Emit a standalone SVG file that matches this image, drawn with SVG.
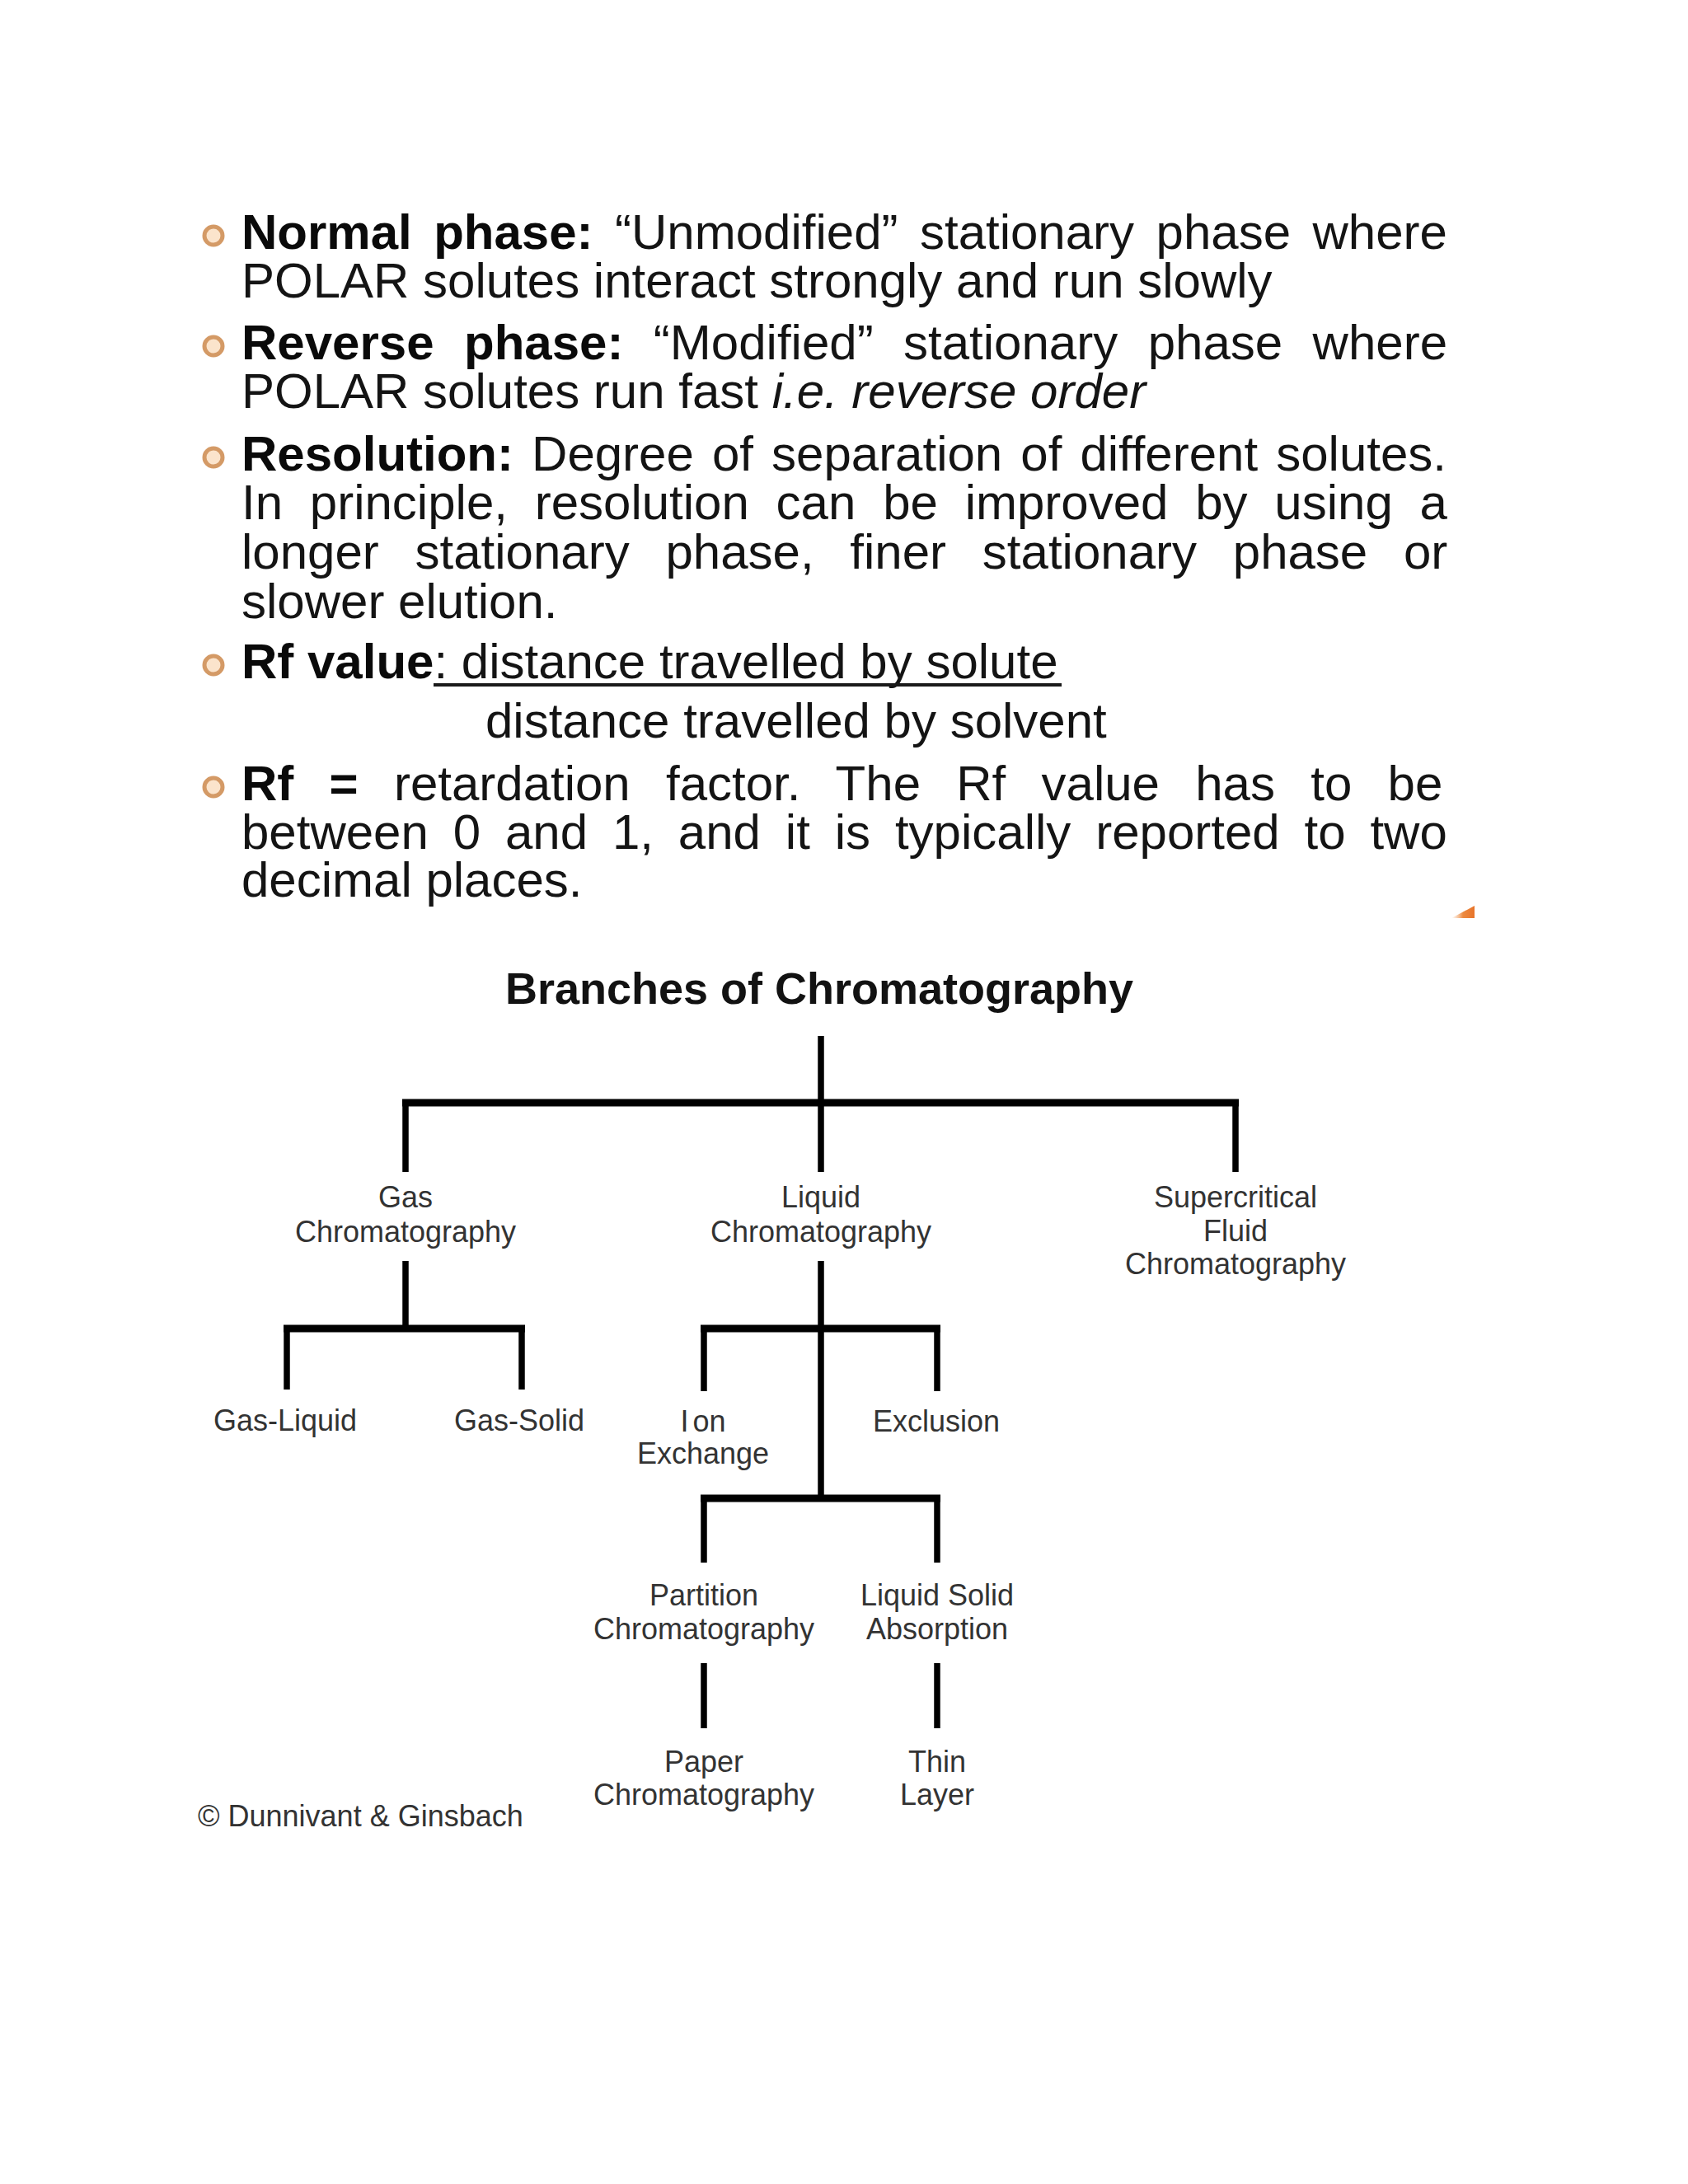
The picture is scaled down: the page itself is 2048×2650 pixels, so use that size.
<svg xmlns="http://www.w3.org/2000/svg" width="2048" height="2650" viewBox="0 0 2048 2650">
  <defs>
    <style>
      .body { font-family: "Liberation Sans", Arial, sans-serif; font-size: 60px; fill: #141414; }
      .b { font-weight: bold; fill: #0a0a0a; }
      .i { font-style: italic; }
      .bullet { fill: #fbe4cc; stroke: #d49a66; stroke-width: 5; }
      .title { font-family: "Liberation Sans", Arial, sans-serif; font-size: 54px; font-weight: bold; fill: #121212; text-anchor: middle; }
      .lbl { font-family: "Liberation Sans", Arial, sans-serif; font-size: 36px; fill: #333333; text-anchor: middle; }
      .copy { font-family: "Liberation Sans", Arial, sans-serif; font-size: 36px; fill: #333333; }
      .h { stroke: #000; stroke-width: 9; fill: none; }
      .v { stroke: #000; stroke-width: 7.5; fill: none; }
    </style>
    <linearGradient id="og" x1="0" y1="0" x2="1" y2="0">
      <stop offset="0" stop-color="#f4b07a" stop-opacity="0"/>
      <stop offset="0.5" stop-color="#ec8a40"/>
      <stop offset="1" stop-color="#e8742a"/>
    </linearGradient>
  </defs>
  <rect width="2048" height="2650" fill="#ffffff"/>

  <!-- Bullet list -->
  <g id="bullets">
    <circle class="bullet" cx="259" cy="286" r="11"/>
    <circle class="bullet" cx="259" cy="420" r="11"/>
    <circle class="bullet" cx="259" cy="555" r="11"/>
    <circle class="bullet" cx="259" cy="807" r="11"/>
    <circle class="bullet" cx="259" cy="955" r="11"/>
  </g>

  <g id="text-list">
    <text class="body" x="293" y="302" word-spacing="9.8"><tspan class="b">Normal phase:</tspan> “Unmodified” stationary phase where</text>
    <text class="body" x="293" y="361">POLAR solutes interact strongly and run slowly</text>

    <text class="body" x="293" y="436" word-spacing="19.8"><tspan class="b">Reverse phase:</tspan> “Modified” stationary phase where</text>
    <text class="body" x="293" y="495">POLAR solutes run fast <tspan class="i">i.e. reverse order</tspan></text>

    <text class="body" x="293" y="571" word-spacing="5.4"><tspan class="b">Resolution:</tspan> Degree of separation of different solutes.</text>
    <text class="body" x="293" y="630" word-spacing="16.1">In principle, resolution can be improved by using a</text>
    <text class="body" x="293" y="690" word-spacing="27.1">longer stationary phase, finer stationary phase or</text>
    <text class="body" x="293" y="750">slower elution.</text>

    <text class="body" x="293" y="823"><tspan class="b">Rf value</tspan>: distance travelled by solute</text>
    <line x1="526" y1="831" x2="1288" y2="831" stroke="#1a1a1a" stroke-width="4"/>
    <text class="body" x="589" y="895">distance travelled by solvent</text>

    <text class="body" x="293" y="971" word-spacing="26.6"><tspan class="b">Rf =</tspan> retardation factor. The Rf value has to be</text>
    <text class="body" x="293" y="1030" word-spacing="13.2">between 0 and 1, and it is typically reported to two</text>
    <text class="body" x="293" y="1088">decimal places.</text>
  </g>

  <polygon points="1761,1114 1789,1099 1789,1114" fill="url(#og)"/>

  <!-- Diagram title -->
  <text class="title" x="994" y="1218">Branches of Chromatography</text>

  <!-- Connectors -->
  <g id="connectors">
    <line class="v" x1="996" y1="1257" x2="996" y2="1422"/>
    <line class="h" x1="488" y1="1338" x2="1503" y2="1338"/>
    <line class="v" x1="492" y1="1338" x2="492" y2="1422"/>
    <line class="v" x1="1499" y1="1338" x2="1499" y2="1422"/>

    <line class="v" x1="492" y1="1530" x2="492" y2="1612"/>
    <line class="h" x1="344" y1="1612" x2="637" y2="1612"/>
    <line class="v" x1="348" y1="1612" x2="348" y2="1686"/>
    <line class="v" x1="633" y1="1612" x2="633" y2="1686"/>

    <line class="v" x1="996" y1="1530" x2="996" y2="1818"/>
    <line class="h" x1="850" y1="1612" x2="1141" y2="1612"/>
    <line class="v" x1="854" y1="1612" x2="854" y2="1688"/>
    <line class="v" x1="1137" y1="1612" x2="1137" y2="1688"/>
    <line class="h" x1="850" y1="1818" x2="1141" y2="1818"/>
    <line class="v" x1="854" y1="1818" x2="854" y2="1896"/>
    <line class="v" x1="1137" y1="1818" x2="1137" y2="1896"/>

    <line class="v" x1="854" y1="2018" x2="854" y2="2097"/>
    <line class="v" x1="1137" y1="2018" x2="1137" y2="2097"/>
  </g>

  <!-- Nodes -->
  <g id="node-gas">
    <text class="lbl" x="492" y="1465">Gas</text>
    <text class="lbl" x="492" y="1507">Chromatography</text>
  </g>
  <g id="node-liquid">
    <text class="lbl" x="996" y="1465">Liquid</text>
    <text class="lbl" x="996" y="1507">Chromatography</text>
  </g>
  <g id="node-supercritical">
    <text class="lbl" x="1499" y="1465">Supercritical</text>
    <text class="lbl" x="1499" y="1506">Fluid</text>
    <text class="lbl" x="1499" y="1546">Chromatography</text>
  </g>
  <g id="node-gas-liquid">
    <text class="lbl" x="346" y="1736">Gas-Liquid</text>
  </g>
  <g id="node-gas-solid">
    <text class="lbl" x="630" y="1736">Gas-Solid</text>
  </g>
  <g id="node-ion-exchange">
    <text class="lbl" x="853" y="1737">I<tspan dx="5">on</tspan></text>
    <text class="lbl" x="853" y="1776">Exchange</text>
  </g>
  <g id="node-exclusion">
    <text class="lbl" x="1136" y="1737">Exclusion</text>
  </g>
  <g id="node-partition">
    <text class="lbl" x="854" y="1948">Partition</text>
    <text class="lbl" x="854" y="1989">Chromatography</text>
  </g>
  <g id="node-liquid-solid">
    <text class="lbl" x="1137" y="1948">Liquid Solid</text>
    <text class="lbl" x="1137" y="1989">Absorption</text>
  </g>
  <g id="node-paper">
    <text class="lbl" x="854" y="2150">Paper</text>
    <text class="lbl" x="854" y="2190">Chromatography</text>
  </g>
  <g id="node-thin-layer">
    <text class="lbl" x="1137" y="2150">Thin</text>
    <text class="lbl" x="1137" y="2190">Layer</text>
  </g>

  <text class="copy" x="240" y="2216">© Dunnivant &amp; Ginsbach</text>
</svg>
